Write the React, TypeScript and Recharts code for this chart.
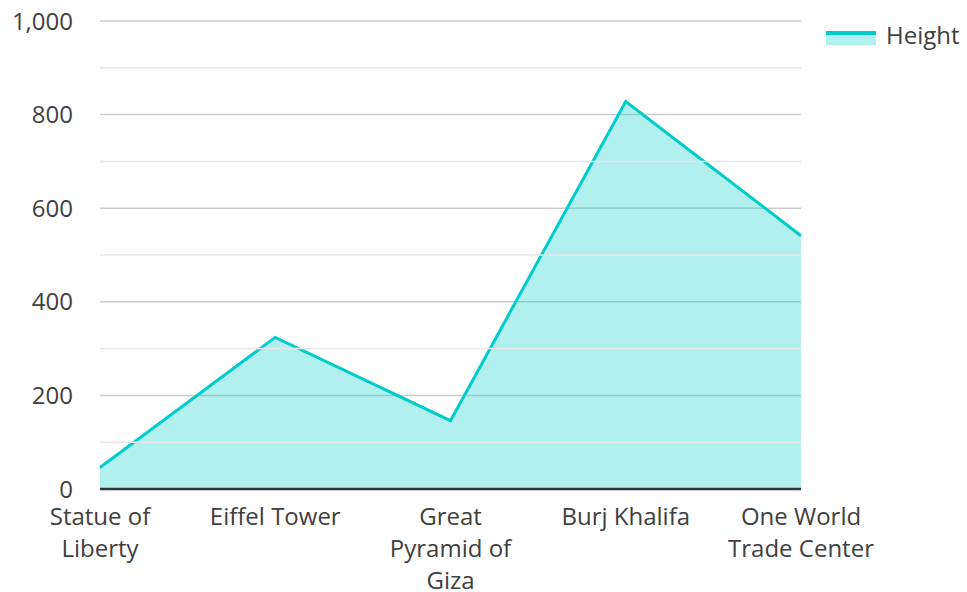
import { AreaChart, Area, XAxis, YAxis, CartesianGrid, Legend, ReferenceLine } from "recharts";

const categories = ["Statue of Liberty", "Eiffel Tower", "Great Pyramid of Giza", "Burj Khalifa", "One World Trade Center"];
const heights = [46, 324, 146, 828, 541];
const tickLines = [["Statue of", "Liberty"], ["Eiffel Tower"], ["Great", "Pyramid of", "Giza"], ["Burj Khalifa"], ["One World", "Trade Center"]];
const yTicks = [0, 200, 400, 600, 800, 1000];
const minorTicks = [100, 300, 500, 700, 900];

const data = categories.map((name, i) => ({ name, height: heights[i] }));

const font = "'Open Sans', 'Noto Sans', sans-serif";
const teal = "#00cccc";

function CategoryTick(props: any) {
  const { x, y, index } = props;
  const lines = tickLines[index] || [props.payload.value];
  return (
    <text x={x} y={y} textAnchor="middle" fill="#404040" fontSize={24} fontFamily={font}>
      {lines.map((l: string, i: number) => (
        <tspan key={i} x={x} dy={i === 0 ? 36 : 32}>
          {l}
        </tspan>
      ))}
    </text>
  );
}

function HeightLegend() {
  return (
    <div style={{ width: 162, display: "flex", alignItems: "center", fontFamily: font, fontSize: 24, color: "#404040", height: 26 }}>
      <svg width={50} height={14} style={{ marginLeft: 25, marginRight: 10, marginTop: 8 }}>
        <rect x={0} y={0} width={50} height={14} fill={teal} fillOpacity={0.3} />
        <rect x={0} y={0} width={50} height={4} fill={teal} />
      </svg>
      <span>Height</span>
    </div>
  );
}

export default function App() {
  return (
    <div style={{ position: "absolute", left: 0, top: 0 }}>
      <AreaChart width={967} height={592} data={data} margin={{ top: 21, right: 4, left: 0, bottom: 0 }}>
        <CartesianGrid vertical={false} stroke="#cccccc" strokeWidth={1.5} />
        {minorTicks.map((v) => (
          <ReferenceLine key={v} y={v} stroke="#e6e6e6" strokeWidth={1.5} />
        ))}
        <XAxis
          dataKey="name"
          height={103}
          tickSize={0}
          tickMargin={0}
          tick={<CategoryTick />}
          interval={0}
          axisLine={{ stroke: "#333333", strokeWidth: 2.5 }}
        />
        <YAxis
          width={100}
          domain={[0, 1000]}
          ticks={yTicks}
          tickSize={0}
          tickMargin={27}
          axisLine={false}
          tickLine={false}
          tickFormatter={(v: number) => v.toLocaleString("en-US")}
          tick={{ fill: "#404040", fontSize: 24, fontFamily: font }}
        />
        <Legend layout="vertical" align="right" verticalAlign="top" content={<HeightLegend />} />
        <Area
          type="linear"
          dataKey="height"
          stroke={teal}
          strokeWidth={3}
          fill={teal}
          fillOpacity={0.3}
          dot={false}
          activeDot={false}
          isAnimationActive={false}
        />
      </AreaChart>
    </div>
  );
}
